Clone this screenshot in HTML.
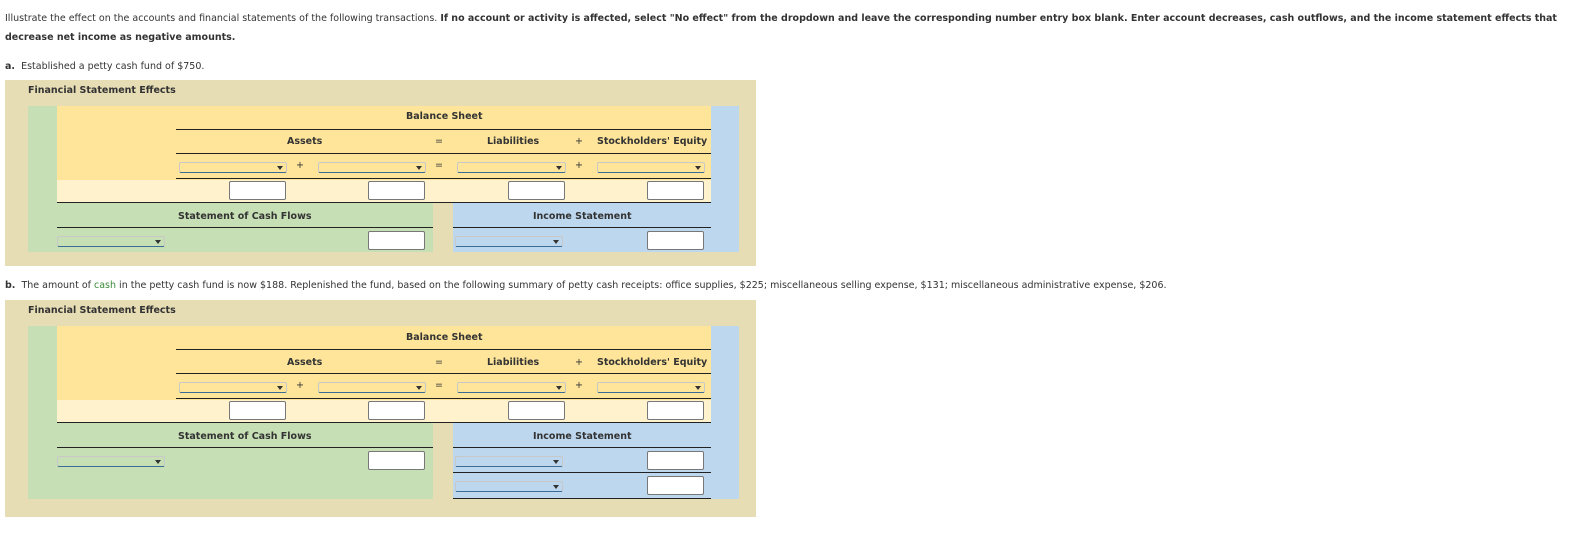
<!DOCTYPE html>
<html><head><meta charset="utf-8"><style>
body{margin:0;width:1586px;height:548px;background:#fff;position:relative;overflow:hidden;font-family:"DejaVu Sans","Liberation Sans",sans-serif;font-size:9.5px;color:#333}
.a{position:absolute;white-space:nowrap}
.sec{position:absolute;left:0;width:1586px;height:260px}
.r{position:absolute}
.ln{position:absolute;height:1px;background:#222}
.dd{position:absolute;height:9px;border:1px solid #c8c8c8;border-bottom:1px solid #3a6c96;border-radius:2px;background:transparent}
.dd:after{content:"";position:absolute;right:3px;top:3px;border-left:3px solid transparent;border-right:3px solid transparent;border-top:4px solid #333}
.in{position:absolute;width:55px;height:17px;border:1px solid #777;border-radius:2px;background:#fff}
b{font-weight:bold}
.h{position:absolute;font-weight:bold;white-space:nowrap;font-size:9.5px}
</style></head><body>
<div class="a" style="left:5px;top:13px">Illustrate the effect on the accounts and financial statements of the following transactions. <b>If no account or activity is affected, select "No effect" from the dropdown and leave the corresponding number entry box blank. Enter account decreases, cash outflows, and the income statement effects that</b></div>
<div class="a" style="left:5px;top:32px"><b>decrease net income as negative amounts.</b></div>
<div class="a" style="left:5px;top:61px"><b>a.</b>&nbsp; Established a petty cash fund of $750.</div>
<div class="a" style="left:5px;top:280px"><b>b.</b>&nbsp; The amount of <span style="color:#3a8a3a">cash</span> in the petty cash fund is now $188. Replenished the fund, based on the following summary of petty cash receipts: office supplies, $225; miscellaneous selling expense, $131; miscellaneous administrative expense, $206.</div>

<!-- section a -->
<div class="sec" style="top:80px">
 <div class="r" style="left:5px;top:0;width:751px;height:186px;background:#e6ddb5"></div>
 <div class="h" style="left:28px;top:5px">Financial Statement Effects</div>
 <div class="r" style="left:28px;top:26px;width:29px;height:146px;background:#c6dfb4"></div>
 <div class="r" style="left:57px;top:26px;width:654px;height:74px;background:#fee59a"></div>
 <div class="r" style="left:57px;top:100px;width:654px;height:23px;background:#fff2cc"></div>
 <div class="r" style="left:711px;top:26px;width:28px;height:146px;background:#bdd7ee"></div>
 <div class="r" style="left:57px;top:123px;width:376px;height:49px;background:#c6dfb4"></div>
 <div class="r" style="left:453px;top:123px;width:258px;height:49px;background:#bdd7ee"></div>
 <div class="h" style="left:406px;top:31px">Balance Sheet</div>
 <div class="ln" style="left:176px;top:49px;width:535px"></div>
 <div class="h" style="left:287px;top:56px">Assets</div>
 <div class="a" style="left:435px;top:56px">=</div>
 <div class="h" style="left:487px;top:56px">Liabilities</div>
 <div class="a" style="left:575px;top:56px">+</div>
 <div class="h" style="left:597px;top:56px">Stockholders' Equity</div>
 <div class="ln" style="left:176px;top:73px;width:535px"></div>
 <div class="dd" style="left:179px;top:82px;width:106px"></div>
 <div class="a" style="left:296px;top:80px">+</div>
 <div class="dd" style="left:318px;top:82px;width:106px"></div>
 <div class="a" style="left:435px;top:80px">=</div>
 <div class="dd" style="left:457px;top:82px;width:107px"></div>
 <div class="a" style="left:575px;top:80px">+</div>
 <div class="dd" style="left:597px;top:82px;width:106px"></div>
 <div class="ln" style="left:176px;top:98px;width:535px"></div>
 <div class="in" style="left:229px;top:101px"></div>
 <div class="in" style="left:368px;top:101px"></div>
 <div class="in" style="left:508px;top:101px"></div>
 <div class="in" style="left:647px;top:101px"></div>
 <div class="ln" style="left:57px;top:122px;width:654px"></div>
 <div class="h" style="left:178px;top:131px">Statement of Cash Flows</div>
 <div class="h" style="left:533px;top:131px">Income Statement</div>
 <div class="ln" style="left:57px;top:147px;width:376px"></div>
 <div class="ln" style="left:453px;top:147px;width:258px"></div>
 <div class="dd" style="left:57px;top:156px;width:106px"></div>
 <div class="in" style="left:368px;top:151px"></div>
 <div class="dd" style="left:455px;top:156px;width:106px"></div>
 <div class="in" style="left:647px;top:151px"></div>
</div>

<!-- section b -->
<div class="sec" style="top:300px">
 <div class="r" style="left:5px;top:0;width:751px;height:217px;background:#e6ddb5"></div>
 <div class="h" style="left:28px;top:5px">Financial Statement Effects</div>
 <div class="r" style="left:28px;top:26px;width:29px;height:173px;background:#c6dfb4"></div>
 <div class="r" style="left:57px;top:26px;width:654px;height:74px;background:#fee59a"></div>
 <div class="r" style="left:57px;top:100px;width:654px;height:23px;background:#fff2cc"></div>
 <div class="r" style="left:711px;top:26px;width:28px;height:173px;background:#bdd7ee"></div>
 <div class="r" style="left:57px;top:123px;width:376px;height:76px;background:#c6dfb4"></div>
 <div class="r" style="left:453px;top:123px;width:258px;height:76px;background:#bdd7ee"></div>
 <div class="h" style="left:406px;top:32px">Balance Sheet</div>
 <div class="ln" style="left:176px;top:49px;width:535px"></div>
 <div class="h" style="left:287px;top:57px">Assets</div>
 <div class="a" style="left:435px;top:57px">=</div>
 <div class="h" style="left:487px;top:57px">Liabilities</div>
 <div class="a" style="left:575px;top:57px">+</div>
 <div class="h" style="left:597px;top:57px">Stockholders' Equity</div>
 <div class="ln" style="left:176px;top:73px;width:535px"></div>
 <div class="dd" style="left:179px;top:82px;width:106px"></div>
 <div class="a" style="left:296px;top:80px">+</div>
 <div class="dd" style="left:318px;top:82px;width:106px"></div>
 <div class="a" style="left:435px;top:80px">=</div>
 <div class="dd" style="left:457px;top:82px;width:107px"></div>
 <div class="a" style="left:575px;top:80px">+</div>
 <div class="dd" style="left:597px;top:82px;width:106px"></div>
 <div class="ln" style="left:176px;top:98px;width:535px"></div>
 <div class="in" style="left:229px;top:101px"></div>
 <div class="in" style="left:368px;top:101px"></div>
 <div class="in" style="left:508px;top:101px"></div>
 <div class="in" style="left:647px;top:101px"></div>
 <div class="ln" style="left:57px;top:122px;width:654px"></div>
 <div class="h" style="left:178px;top:131px">Statement of Cash Flows</div>
 <div class="h" style="left:533px;top:131px">Income Statement</div>
 <div class="ln" style="left:57px;top:147px;width:376px"></div>
 <div class="ln" style="left:453px;top:147px;width:258px"></div>
 <div class="dd" style="left:57px;top:156px;width:106px"></div>
 <div class="in" style="left:368px;top:151px"></div>
 <div class="dd" style="left:455px;top:156px;width:106px"></div>
 <div class="in" style="left:647px;top:151px"></div>
 <div class="ln" style="left:453px;top:172px;width:258px"></div>
 <div class="dd" style="left:455px;top:181px;width:106px"></div>
 <div class="in" style="left:647px;top:176px"></div>
 <div class="ln" style="left:453px;top:198px;width:258px"></div>
</div>
</body></html>
